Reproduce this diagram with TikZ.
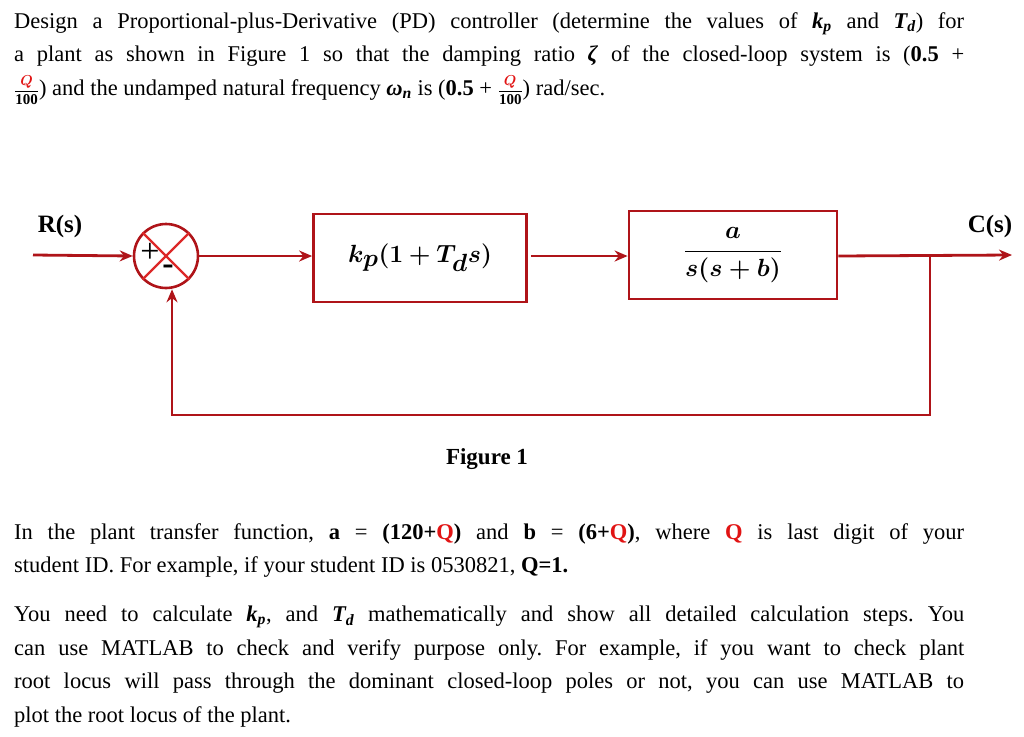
\documentclass[tikz,border=0pt]{standalone}
\usepackage{fontspec}
\usepackage{amsmath,bm}
\setmainfont{Liberation Serif}
\usetikzlibrary{arrows.meta}
\definecolor{dred}{RGB}{175,20,25}
\definecolor{lred}{RGB}{220,40,40}
\definecolor{qred}{RGB}{225,20,20}
\newcommand{\bi}[1]{\textbf{\textit{#1}}}
\newcommand{\Qf}{{\fontsize{15}{15}\selectfont$\dfrac{\textcolor{qred}{\bm{Q}}}{\mathbf{100}}$}}
\frenchspacing
\begin{document}
\begin{tikzpicture}[x=1pt,y=-1pt,
  blk/.style={draw=dred,line width=2.8pt,minimum width=213pt,minimum height=88pt},
  wire/.style={dred,line width=2.8pt},
  arr/.style={wire,-{Stealth[length=13pt,width=11pt]}},
  para/.style={anchor=north west,inner sep=0pt,text width=950pt,align=justify,font=\fontsize{22.5}{33.5}\selectfont}]
\useasboundingbox (0,0) rectangle (1024,736);
\node[para] (p1) at (14,12) {Design a Proportional-plus-Derivative (PD) controller (determine the values of \bi{k\textsubscript{p}} and \bi{T\textsubscript{d}}) for\linebreak a plant as shown in Figure 1 so that the damping ratio \bi{ζ} of the closed-loop system is (\textbf{0.5} +\linebreak\Qf) and the undamped natural frequency \bi{ω\textsubscript{n}} is (\textbf{0.5} + \Qf) rad/sec.};
% diagram
\node[font=\fontsize{25}{25}\selectfont\bfseries] (R) at (60,226) {R(s)};
\node[font=\fontsize{25}{25}\selectfont\bfseries] (C) at (990,226) {C(s)};
\coordinate (in) at (33,255);
\node[circle,draw=dred,line width=2.6pt,minimum size=64pt,inner sep=0pt] (sum) at (166,256) {};
\draw[lred,line width=2.4pt] (sum.north west) -- (sum.south east) (sum.north east) -- (sum.south west);
\node[font=\fontsize{34}{34}\selectfont] (plus) at (150,253) {+};
\node[font=\fontsize{34}{34}\selectfont\bfseries] (minus) at (168,270) {-};
\node[blk] (G1) at (420,258) {\fontsize{33}{33}\selectfont $\bm{k_p(1+T_d s)}$};
\node[blk,minimum width=208pt] (G2) at (733,255) {\fontsize{32}{32}\selectfont $\displaystyle\bm{\frac{a}{s(s+b)}}$};
\coordinate (out) at (1012,255);
\coordinate (br) at (930,255);
\coordinate (fb) at (930,415);
\coordinate (fbl) at (172,415);
\draw[arr] (in) -- (sum.west);
\draw[arr] (sum.east) -- (G1.west |- sum.east);
\draw[arr] (G1.east |- sum.east) ++(3,0) -- (G2.west |- sum.east);
\draw[arr] (G2.east |- sum.east) -- (out);
\draw[arr] (br) -- (fb) -- (fbl) -- (fbl |- sum.south);
\node[font=\fontsize{23}{23}\selectfont\bfseries] (fig) at (487,459) {Figure 1};
\node[para] (p2) at (14,523) {In the plant transfer function, \textbf{a} = \textbf{(120+\textcolor{qred}{Q})} and \textbf{b} = \textbf{(6+\textcolor{qred}{Q})}, where \textbf{\textcolor{qred}{Q}} is last digit of your\linebreak student ID. For example, if your student ID is 0530821, \textbf{Q=1.}};
\node[para] (p3) at (14,606) {You need to calculate \bi{k\textsubscript{p}}, and \bi{T\textsubscript{d}} mathematically and show all detailed calculation steps. You\linebreak can use MATLAB to check and verify purpose only. For example, if you want to check plant\linebreak root locus will pass through the dominant closed-loop poles or not, you can use MATLAB to\linebreak plot the root locus of the plant.};
\end{tikzpicture}
\end{document}
